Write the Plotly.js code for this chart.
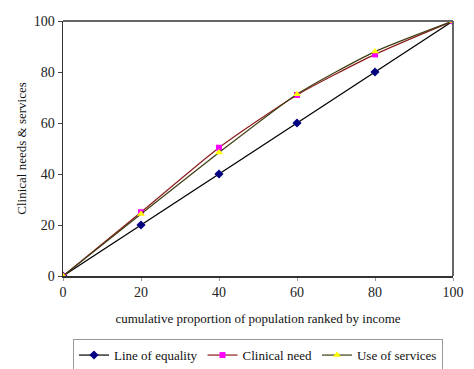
<!DOCTYPE html>
<html><head><meta charset="utf-8">
<script src="https://cdn.plot.ly/plotly-3.0.1.min.js"></script>
<style>html,body{margin:0;padding:0;background:#fff}#c{width:474px;height:369px}</style>
</head><body><div id="c"></div>
<script>
const popShare = [0, 20, 40, 60, 80, 100];
const equality = [0, 20, 40, 60, 80, 100];
const clinicalNeed = [0, 25, 50.3, 71, 86.9, 100];
const useOfServices = [0, 24.3, 48.4, 71.3, 88, 100];
const xTicks = [0, 20, 40, 60, 80, 100];
const yTicks = [0, 20, 40, 60, 80, 100];

const fam = 'Liberation Serif, Times New Roman, serif';
const font = {family: fam, size: 14, color: '#222'};
const traces = [
  {x: popShare, y: equality, name: 'Line of equality', mode: 'lines+markers',
   line: {color: '#000000', width: 1.2}, marker: {symbol: 'diamond', color: '#000080', size: 7}},
  {x: popShare, y: clinicalNeed, name: 'Clinical need', mode: 'lines+markers',
   line: {color: '#8B1A1A', width: 1.2, shape: 'spline', smoothing: 0.6}, marker: {symbol: 'square', color: '#FF00FF', size: 6}},
  {x: popShare, y: useOfServices, name: 'Use of services', mode: 'lines+markers',
   line: {color: '#3d3d10', width: 1.2, shape: 'spline', smoothing: 0.6}, marker: {symbol: 'triangle-up', color: '#FFFF00', size: 7}}
];
const layout = {
  width: 474, height: 369,
  margin: {l: 63, r: 21, t: 21, b: 93, autoexpand: false},
  paper_bgcolor: '#fff', plot_bgcolor: '#fff',
  font: font,
  showlegend: true,
  legend: {orientation: 'h', x: 0.5, xanchor: 'center', xref: 'paper',
           y: 0.081, yanchor: 'top', yref: 'container',
           bordercolor: '#999', borderwidth: 1, font: {family: fam, size: 13, color: '#111'},
           itemwidth: 30, tracegroupgap: 0},
  xaxis: {range: [0, 100], tickvals: xTicks, showgrid: false, zeroline: false, automargin: false,
          showline: true, linecolor: '#333', linewidth: 1.5, ticks: 'outside', ticklen: 3, tickcolor: '#999',
          title: {text: 'cumulative proportion of population ranked by income', font: {family: fam, size: 13, color: '#111'}, standoff: 14},
          tickfont: font},
  yaxis: {range: [0, 100], tickvals: yTicks, showgrid: false, zeroline: false, automargin: true,
          showline: true, linecolor: '#333', linewidth: 1.5, ticks: 'outside', ticklen: 4, tickcolor: '#444',
          title: {text: 'Clinical needs & services', font: {family: fam, size: 13, color: '#111'}, standoff: 4},
          tickfont: font},
  shapes: [
    {type: 'line', xref: 'paper', yref: 'paper', x0: 0, x1: 1, y0: 1, y1: 1, line: {color: '#666', width: 2}},
    {type: 'line', xref: 'paper', yref: 'paper', x0: 1, x1: 1, y0: 0, y1: 1, line: {color: '#666', width: 2}}
  ]
};
Plotly.newPlot('c', traces, layout, {staticPlot: true, displayModeBar: false});
</script></body></html>
